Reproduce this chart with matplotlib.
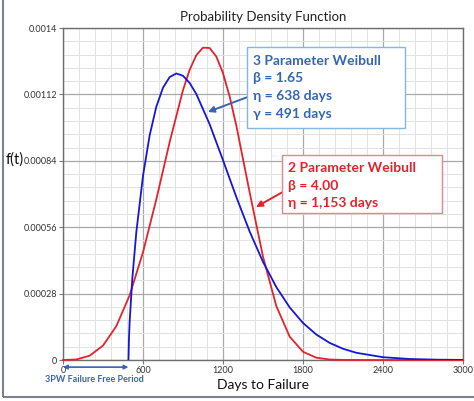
import matplotlib
matplotlib.use("Agg")
import matplotlib.pyplot as plt
from matplotlib.ticker import MultipleLocator, FixedLocator
from matplotlib.patches import Rectangle

# ---- data ----
red_t = [0, 100, 200, 300, 400, 500, 600, 700, 800, 900, 950, 1000, 1050, 1100,
         1150, 1200, 1250, 1300, 1400, 1500, 1600, 1700, 1800, 1900, 2000, 2100,
         2400, 2700, 3000]
red_f = [0.0, 2.26e-6, 1.81e-5, 6.08e-5, 1.428e-4, 2.731e-4, 4.543e-4, 6.777e-4,
         9.191e-4, 1.1383e-3, 1.2239e-3, 1.2853e-3, 1.3171e-3, 1.3156e-3, 1.2794e-3,
         1.2098e-3, 1.1106e-3, 9.880e-4, 7.066e-4, 4.356e-4, 2.273e-4, 9.85e-5,
         3.47e-5, 9.7e-6, 2.1e-6, 0.3e-6, 0.0, 0.0, 0.0]

blue_t = [491, 495, 500, 520, 550, 600, 650, 700, 750, 800, 850, 900, 950, 1000,
          1100, 1200, 1300, 1400, 1500, 1600, 1700, 1800, 1900, 2000, 2100, 2200,
          2400, 2600, 2800, 3000]
blue_f = [0.0, 9.57e-5, 1.620e-4, 3.447e-4, 5.396e-4, 7.768e-4, 9.475e-4, 1.0684e-3,
          1.1483e-3, 1.1931e-3, 1.2083e-3, 1.1985e-3, 1.1681e-3, 1.1214e-3, 9.939e-4,
          8.425e-4, 6.872e-4, 5.417e-4, 4.138e-4, 3.073e-4, 2.219e-4, 1.563e-4,
          1.074e-4, 7.21e-5, 4.74e-5, 3.04e-5, 1.18e-5, 4.2e-6, 1.4e-6, 0.4e-6]

x_ticks = [0, 600, 1200, 1800, 2400, 3000]
y_ticks = [0, 0.00028, 0.00056, 0.00084, 0.00112, 0.0014]
y_tick_labels = ["0", "0.00028", "0.00056", "0.00084", "0.00112", "0.0014"]

failure_free = 491

blue_lines = ["3 Parameter Weibull", "\u03b2 = 1.65", "\u03b7 = 638 days", "\u03b3 = 491 days"]
red_lines = ["2 Parameter Weibull", "\u03b2 = 4.00", "\u03b7 = 1,153 days"]

RED = "#e5222b"
BLUE = "#1616d8"
BLUE_TXT = "#3566b0"

plt.rcParams['font.family'] = ['Lato', 'DejaVu Sans']

W, H = 474, 401
fig = plt.figure(figsize=(4.74, 4.01), dpi=100)
ax = fig.add_axes([63/W, 1-360/H, 400/W, 332/H])

def fx(px):
    return px / W

def fy(py):
    return 1 - py / H

ax.set_xlim(0, 3000)
ax.set_ylim(0, 0.0014)
ax.xaxis.set_major_locator(FixedLocator(x_ticks))
ax.yaxis.set_major_locator(FixedLocator(y_ticks))
ax.set_xticklabels([str(v) for v in x_ticks])
ax.set_yticklabels(y_tick_labels)
ax.xaxis.set_minor_locator(MultipleLocator(120))
ax.yaxis.set_minor_locator(MultipleLocator(0.000056))
ax.grid(which='major', color='#a8a8a8', linewidth=0.9)
ax.grid(which='minor', color='#e2e2e2', linewidth=0.7)
ax.set_axisbelow(True)
ax.tick_params(which='major', length=3, width=0.8, color='#777777', labelsize=6.5,
               labelcolor='#333333', pad=1)
ax.tick_params(which='minor', length=0)
for s in ax.spines.values():
    s.set_color('#6e6e6e')
    s.set_linewidth(1.0)

ax.plot(red_t, red_f, color=RED, linewidth=1.3, clip_on=False, zorder=3)
ax.plot(blue_t, blue_f, color=BLUE, linewidth=1.3, zorder=4)

ax.set_title("Probability Density Function", fontsize=9.5, color='#222222', pad=5)
ax.set_xlabel("Days to Failure", fontsize=10, color='#111111', labelpad=3.5)
fig.text(fx(6), fy(160), "f(t)", fontsize=10.5, color='#111111', ha='left', va='center')

# annotation arrows
ax.annotate("", xy=(1087, 0.001046), xytext=(1380, 0.001108),
            arrowprops=dict(arrowstyle='-|>', color=BLUE_TXT, lw=1.4,
                            mutation_scale=9, shrinkA=0, shrinkB=0))
ax.annotate("", xy=(1448, 0.000645), xytext=(1643, 0.000707),
            arrowprops=dict(arrowstyle='-|>', color=RED, lw=1.4,
                            mutation_scale=9, shrinkA=0, shrinkB=0))

# annotation boxes
fig.patches.append(Rectangle((fx(247), fy(128)), 158/W, 81/H, transform=fig.transFigure,
                             facecolor='white', edgecolor='#86b6e0', linewidth=1.0, zorder=5))
fig.patches.append(Rectangle((fx(282), fy(213)), 160/W, 58/H, transform=fig.transFigure,
                             facecolor='white', edgecolor='#e8848c', linewidth=1.0, zorder=5))
for i, s in enumerate(blue_lines):
    fig.text(fx(253), fy(61 + 17.5 * i), s, fontsize=10, fontweight='bold',
             color=BLUE_TXT, ha='left', va='center', zorder=6)
for i, s in enumerate(red_lines):
    fig.text(fx(288), fy(168 + 17.5 * i), s, fontsize=10, fontweight='bold',
             color=RED, ha='left', va='center', zorder=6)

# failure-free period arrow
ax.annotate("", xy=(0, -0.00003), xytext=(failure_free, -0.00003),
            xycoords='data', annotation_clip=False,
            arrowprops=dict(arrowstyle='<|-|>', color=BLUE_TXT, lw=1.2,
                            mutation_scale=6, shrinkA=0, shrinkB=0))
fig.text(fx(94), fy(379), "3PW Failure Free Period", fontsize=6.5,
         fontweight='bold', color=BLUE_TXT, ha='center', va='center')

# outer frame
fig.patches.append(Rectangle((fx(3), 4/H), 1.2, 1.2, transform=fig.transFigure,
                             fill=False, edgecolor='#7d828c', linewidth=1.5))

fig.savefig("out.png", dpi=100)
